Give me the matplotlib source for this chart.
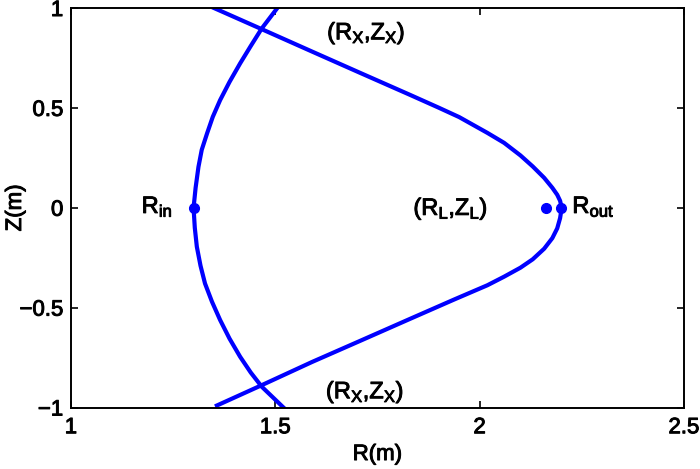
import matplotlib
matplotlib.use("Agg")
import matplotlib.pyplot as plt
import matplotlib.patheffects as pe

plt.rcParams['font.family'] = ['Liberation Sans', 'DejaVu Sans']
plt.rcParams['mathtext.fontset'] = 'custom'
plt.rcParams['mathtext.rm'] = 'Liberation Sans'
plt.rcParams['mathtext.it'] = 'Liberation Sans'

# Separatrix-like boundary curves (R, Z in metres)
outer_R = [1.350, 1.467, 1.590, 1.708, 1.830, 1.900, 1.950, 2.019, 2.060, 2.100, 2.130, 2.158,
           2.178, 2.190, 2.197, 2.201,
           2.197, 2.190, 2.178, 2.158, 2.130, 2.100, 2.060, 2.019, 1.937, 1.830, 1.708,
           1.590, 1.467, 1.357]
outer_Z = [1.000, 0.894, 0.782, 0.675, 0.565, 0.501, 0.454, 0.375, 0.325, 0.262, 0.207, 0.150,
           0.100, 0.065, 0.035, 0.000,
           -0.052, -0.103, -0.152, -0.205, -0.258, -0.300, -0.345, -0.388, -0.460, -0.556, -0.666,
           -0.772, -0.888, -0.990]

inner_R = [1.505, 1.467, 1.440, 1.414, 1.388, 1.365, 1.347, 1.333, 1.320, 1.312, 1.305, 1.300,
           1.303, 1.308, 1.317, 1.328, 1.345, 1.365, 1.388, 1.414, 1.440, 1.467, 1.520]
inner_Z = [1.000, 0.898, 0.810, 0.723, 0.630, 0.539, 0.455, 0.372, 0.290, 0.205, 0.100, 0.000,
           -0.100, -0.195, -0.290, -0.379, -0.470, -0.562, -0.655, -0.746, -0.825, -0.896, -1.000]

point_R = [1.300, 2.162, 2.200]   # R_in, (R_L,Z_L), R_out
point_Z = [0.0, 0.0, 0.0]

x_ticks = [1, 1.5, 2, 2.5]
x_tick_labels = ['1', '1.5', '2', '2.5']
y_ticks = [-1, -0.5, 0, 0.5, 1]
y_tick_labels = ['\u22121', '\u22120.5', '0', '0.5', '1']

fig = plt.figure(figsize=(7.0, 4.69), dpi=100)
ax = fig.add_axes([0.1014, 0.1311, 0.8756, 0.8518])

blue = (0, 0, 1)
ax.plot(outer_R, outer_Z, color=blue, lw=3.0, solid_joinstyle='round')
ax.plot(inner_R, inner_Z, color=blue, lw=3.0, solid_joinstyle='round')
ax.plot(point_R, point_Z, 'o', color=blue, ms=7, mec=blue)

ax.set_xlim(1, 2.5)
ax.set_ylim(-1, 1)
ax.set_xticks(x_ticks)
ax.set_xticklabels(x_tick_labels)
ax.set_yticks(y_ticks)
ax.set_yticklabels(y_tick_labels)
ax.tick_params(direction='in', top=True, right=True, length=5, width=1.2, labelsize=16)
ax.tick_params(axis='x', pad=7)
ax.tick_params(axis='y', pad=5.5)
for s in ax.spines.values():
    s.set_linewidth(1.4)

ax.set_xlabel('R(m)', fontsize=16)
ax.set_ylabel('Z(m)', fontsize=16)
ax.xaxis.set_label_coords(0.5, -0.0914)
ax.yaxis.set_label_coords(-0.0734, 0.5)

fs = 17
texts = [
    ax.text(1.627, 0.843, r'(R$_\mathrm{X}$,Z$_\mathrm{X}$)', fontsize=fs, ha='left', va='baseline'),
    ax.text(1.624, -0.954, r'(R$_\mathrm{X}$,Z$_\mathrm{X}$)', fontsize=fs, ha='left', va='baseline'),
    ax.text(1.838, -0.036, r'(R$_\mathrm{L}$,Z$_\mathrm{L}$)', fontsize=fs, ha='left', va='baseline'),
    ax.text(1.249, -0.026, r'R$_\mathrm{in}$', fontsize=fs, ha='right', va='baseline'),
    ax.text(2.227, -0.026, r'R$_\mathrm{out}$', fontsize=fs, ha='left', va='baseline'),
]

heavy = [pe.withStroke(linewidth=0.7, foreground='black')]
for t in texts + ax.get_xticklabels() + ax.get_yticklabels() + [ax.xaxis.label, ax.yaxis.label]:
    t.set_path_effects(heavy)

fig.savefig('out.png', dpi=100)
